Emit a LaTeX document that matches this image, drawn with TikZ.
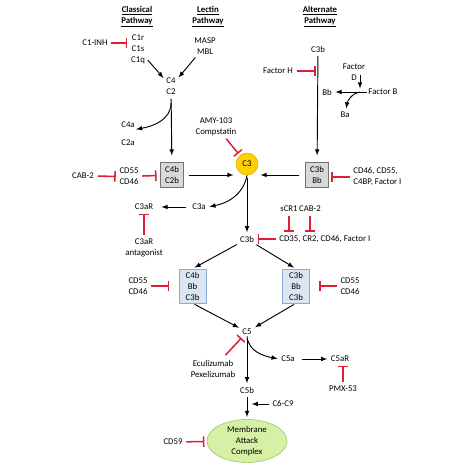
\documentclass[tikz,border=0pt]{standalone}
\usepackage{fontspec}
\setmainfont{Carlito}
\usepackage{xcolor}
\usepackage{tikz}
\usetikzlibrary{arrows.meta, shapes}

\definecolor{inhred}{RGB}{224,30,55}
\definecolor{c3fill}{RGB}{255,208,0}
\definecolor{c3line}{RGB}{222,160,0}
\definecolor{boxgray}{RGB}{217,217,217}
\definecolor{boxblue}{RGB}{220,230,242}
\definecolor{lineblue}{RGB}{140,170,215}
\definecolor{macgreen}{RGB}{214,240,166}
\definecolor{macline}{RGB}{140,190,80}

\begin{document}
\begin{tikzpicture}[x=0.3mm, y=-0.3mm, >=latex, font=\fontsize{7.5}{9.4}\selectfont]
		\tikzstyle{lbl} = [align=center, inner sep=1pt]
		\tikzstyle{title} = [align=center, inner sep=1pt, font=\fontsize{7.5}{9.4}\selectfont\bfseries]
		\tikzstyle{graybox} = [draw=black!55, fill=boxgray, align=center, minimum width=7mm, minimum height=7.4mm, inner sep=1pt]
		\tikzstyle{bluebox} = [draw=lineblue, fill=boxblue, align=center, minimum width=8.1mm, minimum height=10.2mm, inner sep=1pt]
		\tikzstyle{arrow} = [thick, ->, shorten <=2pt, shorten >=2pt]
		\tikzstyle{inhib} = [draw=inhred, line width=1.3pt, -{Bar[width=9pt]}, shorten <=2pt, shorten >=2pt]

		\useasboundingbox (0, 0) rectangle (474, 474);

		\node[title]	at (137, 16.5)	(classical)	{\underline{Classical}\\\underline{Pathway}};
		\node[title]	at (208, 16.5)	(lectin)	{\underline{Lectin}\\\underline{Pathway}};
		\node[title]	at (320, 16.5)	(alternate)	{\underline{Alternate}\\\underline{Pathway}};

		\node[lbl]	at (138, 49)	(c1)	{C1r\\C1s\\C1q};
		\node[lbl]	at (95, 43)	(c1inh)	{C1-INH};
		\node[lbl]	at (205, 46)	(masp)	{MASP\\MBL};
		\node[lbl]	at (171, 86.5)	(c4c2)	{C4\\C2};
		\node[lbl]	at (128, 125)	(c4a)	{C4a};
		\node[lbl]	at (128, 143)	(c2a)	{C2a};
		\node[graybox]	at (172, 175)	(c4b)	{C4b\\C2b};
		\node[lbl]	at (83, 176)	(cab2)	{CAB-2};
		\node[lbl]	at (129, 176.5)	(cd55a)	{CD55\\CD46};

		\node[lbl]	at (216, 126.5)	(amy)	{AMY-103\\Compstatin};
		\node[circle, draw=c3line, fill=c3fill, minimum size=6.6mm, inner sep=0pt]	at (247, 164)	(c3)	{C3};

		\node[lbl]	at (318, 49)	(c3balt)	{C3b};
		\node[lbl]	at (278, 71)	(factorh)	{Factor H};
		\node[lbl]	at (354, 72.5)	(factord)	{Factor\\D};
		\node[lbl]	at (383, 92)	(factorb)	{Factor B};
		\node[lbl]	at (327, 92)	(bb)	{Bb};
		\node[lbl]	at (345, 115)	(ba)	{Ba};
		\node[graybox]	at (317, 175)	(c3bbb)	{C3b\\Bb};
		\node[lbl, align=left, anchor=west]	at (352, 177)	(cd46b)	{CD46, CD55,\\C4BP, Factor I};

		\node[lbl]	at (199, 207)	(c3a)	{C3a};
		\node[lbl]	at (144, 207)	(c3ar)	{C3aR};
		\node[lbl]	at (144, 248)	(c3ant)	{C3aR\\antagonist};
		\node[lbl]	at (289, 209)	(scr1)	{sCR1};
		\node[lbl]	at (310, 209)	(cab2b)	{CAB-2};
		\node[lbl]	at (247, 239)	(c3b)	{C3b};
		\node[lbl, anchor=west]	at (278, 239)	(cd35)	{CD35, CR2, CD46, Factor I};

		\node[bluebox]	at (192.5, 286)	(c4bbb)	{C4b\\Bb\\C3b};
		\node[bluebox]	at (296, 286)	(c3bbb2)	{C3b\\Bb\\C3b};
		\node[lbl]	at (138, 286)	(cd55b)	{CD55\\CD46};
		\node[lbl]	at (350, 286)	(cd55c)	{CD55\\CD46};

		\node[lbl]	at (247, 332)	(c5)	{C5};
		\node[lbl]	at (213, 368.5)	(ecu)	{Eculizumab\\Pexelizumab};
		\node[lbl]	at (288, 359)	(c5a)	{C5a};
		\node[lbl]	at (340, 359)	(c5ar)	{C5aR};
		\node[lbl]	at (343, 389)	(pmx)	{PMX-53};
		\node[lbl]	at (247, 390)	(c5b)	{C5b};
		\node[lbl]	at (283, 404)	(c6c9)	{C6-C9};
		\node[ellipse, draw=macline, fill=macgreen, align=center, minimum width=24mm, minimum height=12.9mm, inner sep=0pt]	at (247, 441)	(mac)	{Membrane\\Attack\\Complex};
		\node[lbl]	at (173, 442)	(cd59)	{CD59};

		\coordinate (c2split) at (171, 103);
		\coordinate (bsplit) at (360, 92);

		\draw [inhib] (c1inh) -- (c1inh -| c1.west);
		\draw [arrow] (c1) -- (c4c2);
		\draw [arrow] (masp) -- (c4c2);
		\draw [arrow, shorten >=6pt] (c4c2) -- (c4b);
		\draw [arrow, shorten <=0pt, shorten >=0pt] (c2split) to[out=-90, in=10] (c4a.south east);
		\draw [inhib] (cab2) -- (cd55a);
		\draw [inhib, shorten >=3pt] (cd55a) -- (c4b);
		\draw [arrow, shorten <=4pt] (c4b) -- (c4b -| c3.west);
		\draw [arrow, shorten <=5pt] (c3bbb) -- (c3bbb -| c3.east);
		\draw [inhib] (amy) -- (c3);

		\draw [arrow, shorten >=6pt] (c3balt) -- (c3bbb);
		\draw [inhib] (factorh) -- (factorh -| c3balt);
		\draw [arrow, shorten >=3pt] (factord.center -| bsplit) -- (bsplit);
		\draw [arrow, shorten <=0pt] (factorb) -- (bb);
		\draw [arrow, shorten <=0pt] (bsplit) to[out=190, in=80] (ba);
		\draw [inhib] (cd46b) -- (cd46b -| c3bbb.east);

		\draw [arrow] (c3) -- (c3b);
		\draw [arrow, shorten <=0pt] (c3.south) to[out=-100, in=10] (c3a.east);
		\draw [arrow, shorten <=4pt, shorten >=6pt] (c3a) -- (c3ar);
		\draw [inhib] (c3ant) -- (c3ar);
		\draw [inhib] (scr1) -- (scr1 |- cd35.north);
		\draw [inhib] (cab2b) -- (cab2b |- cd35.north);
		\draw [inhib] (cd35) -- (c3b);

		\draw [arrow] (c3b) -- (c4bbb.north);
		\draw [arrow] (c3b) -- (c3bbb2.north);
		\draw [inhib, shorten >=8pt] (cd55b) -- (c4bbb);
		\draw [inhib, shorten >=8pt] (cd55c) -- (c3bbb2);
		\draw [arrow] (c4bbb.south) -- (c5);
		\draw [arrow] (c3bbb2.south) -- (c5);

		\draw [inhib, shorten <=4pt] (ecu) -- (c5);
		\draw [arrow] (c5) -- (c5b);
		\draw [arrow, shorten <=0pt] (c5.south) to[out=-85, in=170] (c5a.west);
		\draw [arrow, shorten <=5pt] (c5a) -- (c5ar);
		\draw [inhib] (pmx) -- (pmx |- c5ar.south);
		\draw [arrow] (c5b) -- (mac);
		\draw [arrow, shorten >=4pt] (c6c9) -- (c6c9 -| c5b);
		\draw [inhib] (cd59) -- (mac);
	\end{tikzpicture}
\end{document}
